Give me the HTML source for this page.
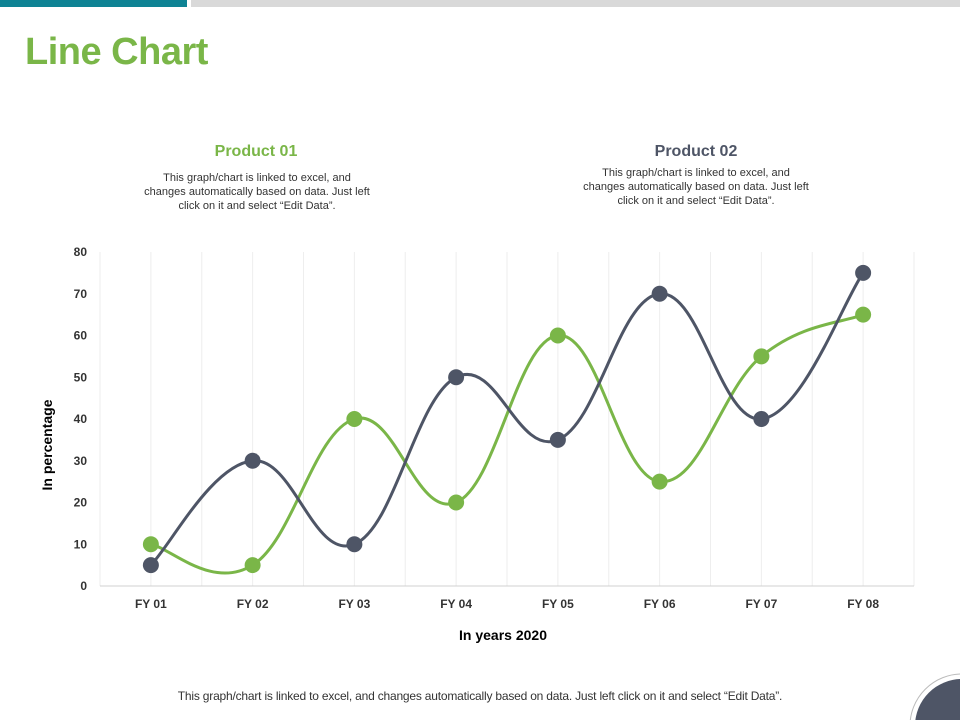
<!DOCTYPE html>
<html style="overflow:hidden;width:960px;height:720px"><head><meta charset="utf-8"><style>
html,body{margin:0;width:960px;height:720px;overflow:hidden}
body{background:#fff;font-family:"Liberation Sans",sans-serif;position:relative}
.abs{position:absolute}
</style></head><body>
<div class="abs" style="left:0;top:0;width:187px;height:7px;background:#0e8394"></div>
<div class="abs" style="left:191px;top:0;width:769px;height:7px;background:#d9d9d9"></div>
<div class="abs" style="left:25px;top:31px;font-size:38px;font-weight:bold;color:#7ab648;letter-spacing:-0.5px">Line Chart</div>
<div class="abs" style="left:130px;top:143px;width:252px;text-align:center;font-size:16px;font-weight:bold;color:#7ab648">Product 01</div>
<div class="abs" style="left:141px;top:171px;width:232px;text-align:center;font-size:11px;line-height:14px;color:#333">This graph/chart is linked to excel, and changes automatically based on data. Just left click on it and select “Edit Data”.</div>
<div class="abs" style="left:570px;top:143px;width:252px;text-align:center;font-size:16px;font-weight:bold;color:#4e5566">Product 02</div>
<div class="abs" style="left:580px;top:166px;width:232px;text-align:center;font-size:11px;line-height:14px;color:#333">This graph/chart is linked to excel, and changes automatically based on data. Just left click on it and select “Edit Data”.</div>
<div class="abs" style="left:0;top:689px;width:960px;text-align:center;font-size:12px;color:#333;letter-spacing:-0.2px">This graph/chart is linked to excel, and changes automatically based on data. Just left click on it and select “Edit Data”.</div>
<svg class="abs" style="left:0;top:0;display:block" width="960" height="720" id="chart">
<circle cx="962" cy="726" r="52" fill="none" stroke="#bbb" stroke-width="1"/>
<circle cx="962" cy="726" r="47" fill="#4e5566"/>
<g id="grid"></g><g id="lines"></g>
<text transform="translate(52,445) rotate(-90)" text-anchor="middle" font-size="14" font-weight="bold" fill="#000">In percentage</text>
<text x="503" y="640" text-anchor="middle" font-size="14" font-weight="bold" fill="#000">In years 2020</text>
</svg>
<script>
const categories=["FY 01","FY 02","FY 03","FY 04","FY 05","FY 06","FY 07","FY 08"];
const product01=[10,5,40,20,60,25,55,65];
const product02=[5,30,10,50,35,70,40,75];
const yTicks=[0,10,20,30,40,50,60,70,80];
const NS="http://www.w3.org/2000/svg";
const x0=100,x1=914,yB=586,yT=252,yMax=80;
const step=(x1-x0)/categories.length;
const xs=i=>x0+step*(i+0.5);
const ys=v=>yB-(v/yMax)*(yB-yT);
function mk(t,a,p){const e=document.createElementNS(NS,t);for(const k in a)e.setAttribute(k,a[k]);p.appendChild(e);return e;}
const g=document.getElementById('grid'),L=document.getElementById('lines');
for(let k=0;k<=categories.length*2;k++){const x=x0+k*step/2;const l=mk('line',{x1:x,x2:x,y1:yT,y2:yB,stroke:'#eeeeee','stroke-width':1},g);

}
const ax=mk('line',{x1:x0,x2:x1,y1:yB,y2:yB,stroke:'#d0d0d0'},g);


yTicks.forEach(v=>{const t=mk('text',{x:87,y:ys(v)+4,'text-anchor':'end','font-size':12,'font-weight':'bold',fill:'#333'},g);t.textContent=v;

});
categories.forEach((c,i)=>{const t=mk('text',{x:xs(i),y:608,'text-anchor':'middle','font-size':12,'font-weight':'bold',fill:'#333'},g);t.textContent=c;

});
function path(vals){const p=vals.map((v,i)=>[xs(i),ys(v)]);let d='M'+p[0][0]+','+p[0][1];const s=0.2;
for(let i=0;i<p.length-1;i++){const a=p[Math.max(0,i-1)],b=p[i],c=p[i+1],e=p[Math.min(p.length-1,i+2)];
d+=' C'+(b[0]+(c[0]-a[0])*s)+','+(b[1]+(c[1]-a[1])*s)+' '+(c[0]-(e[0]-b[0])*s)+','+(c[1]-(e[1]-b[1])*s)+' '+c[0]+','+c[1];}return d;}
[[product01,'#7ab648','product-01'],[product02,'#4e5566','product-02']].forEach(([vals,col,nm])=>{
const p=mk('path',{d:path(vals),fill:'none',stroke:col,'stroke-width':3},L);


vals.forEach((v,i)=>{const c=mk('circle',{cx:xs(i),cy:ys(v),r:8,fill:col},L);

});});
</script>
</body></html>
